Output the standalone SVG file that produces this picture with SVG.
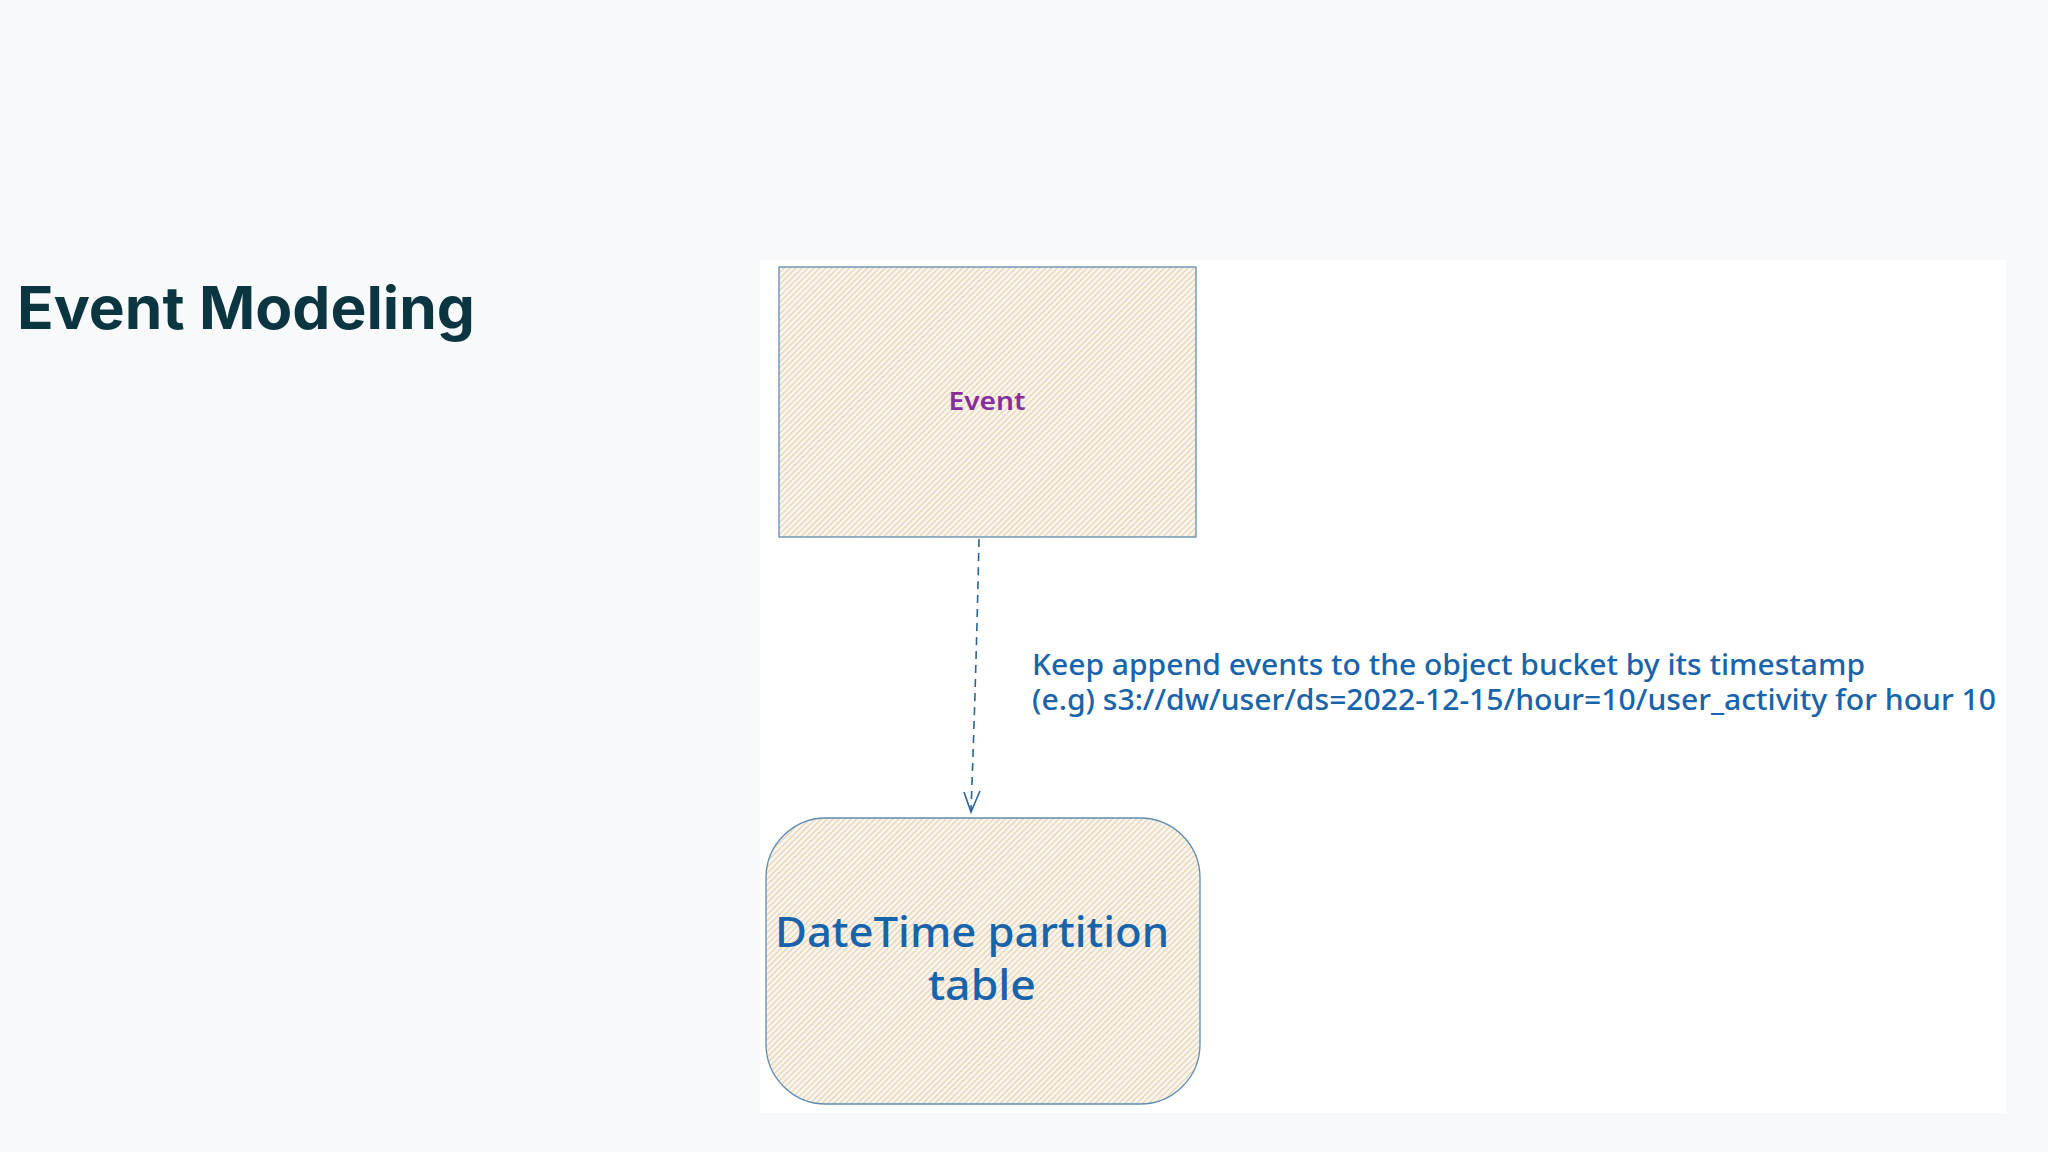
<svg xmlns="http://www.w3.org/2000/svg" width="2048" height="1152" viewBox="0 0 2048 1152">
  <style>
    .title { font-family: Inter, "Open Sans", "Liberation Sans", sans-serif; font-weight: 700; font-size: 59px; fill: #0b3540; }
    .hand { font-family: "Noto Sans", "DejaVu Sans", sans-serif; }
    .box { stroke: #5d8db3; stroke-width: 1.3; fill: url(#hatch); }
    .conn { stroke: #2a6496; stroke-width: 1.6; fill: none; }
  </style>
  <defs>
    <pattern id="hatch" patternUnits="userSpaceOnUse" width="4.2" height="4.2" patternTransform="rotate(45)">
      <rect width="4.2" height="4.2" fill="#f9f4ec"/>
      <line x1="0.6" y1="0" x2="0.6" y2="4.2" stroke="#e5cfae" stroke-width="1.1"/>
    </pattern>
  </defs>
  <rect width="2048" height="1152" fill="#f8f9fa"/>
  <rect x="760" y="260" width="1246" height="853" fill="#ffffff"/>
  <text class="title" x="17" y="329" textLength="458" lengthAdjust="spacingAndGlyphs">Event Modeling</text>

  <g id="connectors">
    <path class="conn" d="M979 539 Q976 680 971 810" stroke-dasharray="8 6"/>
    <path class="conn" d="M964 792 L971 812 L980 791"/>
    <g class="hand" fill="#1864ab" font-size="28" font-weight="500">
      <text x="1032" y="675" textLength="833" lengthAdjust="spacingAndGlyphs">Keep append events to the object bucket by its timestamp</text>
      <text x="1032" y="710" textLength="964" lengthAdjust="spacingAndGlyphs">(e.g) s3://dw/user/ds=2022-12-15/hour=10/user_activity for hour 10</text>
    </g>
  </g>

  <g id="node-event">
    <rect class="box" x="779" y="267" width="417" height="270"/>
    <text class="hand" x="987" y="410" font-size="25" font-weight="600" fill="#862e9c" text-anchor="middle" textLength="77" lengthAdjust="spacingAndGlyphs">Event</text>
  </g>

  <g id="node-datetime">
    <rect class="box" x="766" y="818" width="434" height="286" rx="60" ry="60"/>
    <g class="hand" fill="#1864ab" font-size="42" font-weight="500" text-anchor="middle">
      <text x="972" y="947" textLength="394" lengthAdjust="spacingAndGlyphs">DateTime partition</text>
      <text x="982" y="1000" textLength="108" lengthAdjust="spacingAndGlyphs">table</text>
    </g>
  </g>
</svg>
